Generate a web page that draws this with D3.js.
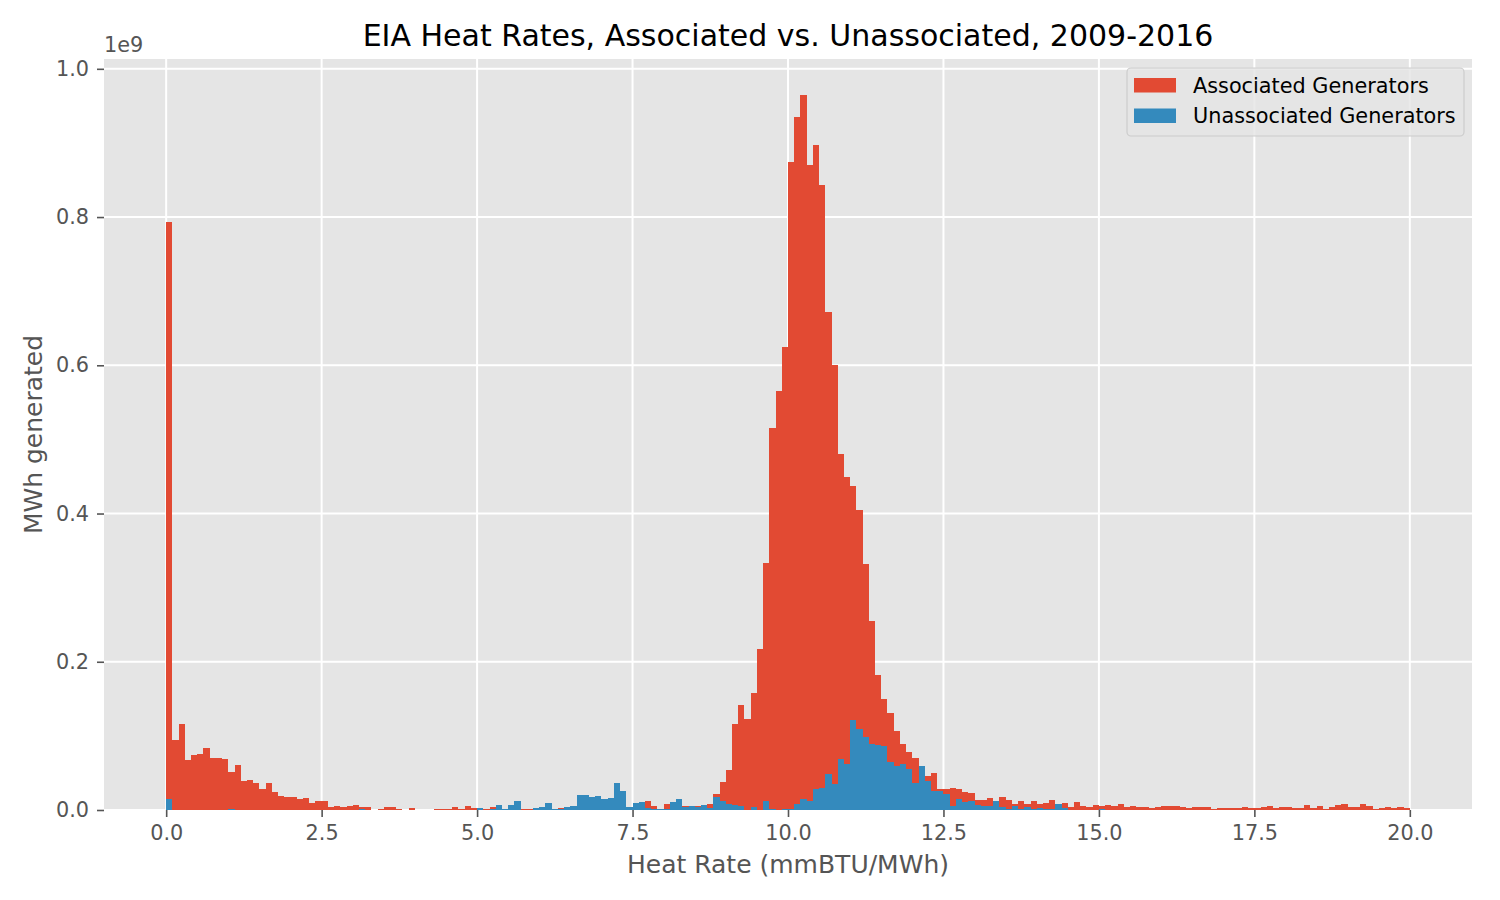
<!DOCTYPE html>
<html lang="en">
<head>
<meta charset="utf-8">
<script src="https://cdn.jsdelivr.net/npm/d3@7"></script>
<style>
  body { margin: 0; background: #fff; }
  svg text { font-family: "DejaVu Sans", sans-serif; }
</style>
</head>
<body>
<script>
// histogram bins: 200 bins of 0.1 mmBTU/MWh from 0 to 20
const binCount = 200
const binWidth = 0.1

// MWh generated per bin, in units of 1e9
const assocValues = [
  0.793, 0.094, 0.116, 0.067, 0.074, 0.075, 0.084, 0.070, 0.070, 0.069,
  0.051, 0.061, 0.039, 0.040, 0.036, 0.028, 0.036, 0.024, 0.019, 0.018,
  0.018, 0.015, 0.016, 0.0094, 0.012, 0.012, 0.004, 0.0054, 0.004, 0.0054,
  0.0067, 0.004, 0.004, 0, 0.0013, 0.004, 0.004, 0.0013, 0, 0.0027,
  0, 0, 0, 0.0013, 0.0013, 0.0013, 0.004, 0.0013, 0.0054, 0.0027,
  0.001, 0.0013, 0.004, 0.001, 0.001, 0.001, 0.002, 0.0013, 0.0013, 0.001,
  0.002, 0.003, 0.001, 0.0027, 0.002, 0.002, 0.003, 0.003, 0.003, 0.003,
  0.003, 0.003, 0.004, 0.004, 0.002, 0.004, 0.006, 0.012, 0.0054, 0.0013,
  0.008, 0.005, 0.006, 0.0054, 0.004, 0.0054, 0.005, 0.008, 0.0216, 0.038,
  0.054, 0.116, 0.1415, 0.1226, 0.158, 0.217, 0.333, 0.516, 0.5647, 0.6253,
  0.8747, 0.9353, 0.965, 0.8706, 0.8976, 0.8437, 0.6725, 0.601, 0.4798, 0.4488,
  0.4367, 0.4043, 0.3317, 0.2547, 0.182, 0.1496, 0.1307, 0.1065, 0.089, 0.078,
  0.070, 0.055, 0.0458, 0.050, 0.0283, 0.0283, 0.0297, 0.0283, 0.0243, 0.0229,
  0.0135, 0.0135, 0.016, 0.010, 0.0175, 0.0135, 0.008, 0.012, 0.008, 0.012,
  0.008, 0.0094, 0.0135, 0.006, 0.0094, 0.004, 0.0108, 0.0054, 0.004, 0.0067,
  0.0054, 0.0067, 0.0054, 0.008, 0.004, 0.0054, 0.004, 0.004, 0.0027, 0.004,
  0.0054, 0.0054, 0.0054, 0.004, 0.0027, 0.004, 0.004, 0.004, 0.0013, 0.0027,
  0.0027, 0.0027, 0.0027, 0.004, 0.0027, 0.0027, 0.004, 0.0054, 0.0027, 0.004,
  0.004, 0.0027, 0.0027, 0.0067, 0.0027, 0.0054, 0.0013, 0.004, 0.0067, 0.008,
  0.004, 0.004, 0.008, 0.0054, 0.0013, 0.0027, 0.004, 0.0027, 0.004, 0.0027
]
const unassocValues = [
  0.0148, 0, 0, 0, 0, 0, 0, 0, 0, 0,
  0.001, 0, 0, 0, 0, 0, 0, 0, 0, 0,
  0, 0, 0, 0, 0, 0, 0, 0, 0, 0,
  0, 0.001, 0, 0, 0, 0, 0, 0, 0, 0,
  0, 0, 0, 0, 0, 0, 0, 0, 0, 0,
  0.0027, 0, 0.001, 0.0067, 0.0013, 0.0067, 0.012, 0, 0, 0.0027,
  0.004, 0.0094, 0.0013, 0.001, 0.004, 0.0054, 0.020, 0.020, 0.0175, 0.019,
  0.0148, 0.016, 0.036, 0.0256, 0.004, 0.0094, 0.011, 0.0027, 0.002, 0.001,
  0.001, 0.011, 0.0148, 0.004, 0.0054, 0.004, 0.0067, 0.003, 0.0175, 0.012,
  0.008, 0.0067, 0.006, 0, 0.004, 0, 0.012, 0.0013, 0.0005, 0.0013,
  0.0013, 0.008, 0.0148, 0.012, 0.028, 0.0297, 0.0485, 0.035, 0.0687, 0.062,
  0.121, 0.109, 0.098, 0.089, 0.0876, 0.086, 0.0647, 0.0593, 0.062, 0.055,
  0.036, 0.0593, 0.039, 0.0256, 0.0256, 0.0216, 0.0054, 0.0148, 0.0108, 0.012,
  0.0067, 0.006, 0.006, 0.012, 0.004, 0.002, 0.0054, 0.001, 0.004, 0.001,
  0.0027, 0.001, 0.001, 0.008, 0.0027, 0, 0, 0, 0, 0,
  0.001, 0, 0, 0, 0, 0, 0, 0, 0, 0,
  0, 0, 0, 0, 0, 0, 0, 0, 0, 0,
  0, 0, 0, 0, 0, 0, 0, 0, 0, 0,
  0, 0, 0, 0, 0, 0, 0, 0, 0, 0,
  0, 0, 0, 0, 0, 0, 0, 0, 0, 0
]
const seriesNames = ['Associated Generators', 'Unassociated Generators']
const xTicks = [0, 2.5, 5, 7.5, 10, 12.5, 15, 17.5, 20]
const yTicks = [0, 0.2, 0.4, 0.6, 0.8, 1.0]

const w = 1500
const h = 900
const margin = {left: 104, right: 28, top: 59, bottom: 90}
const colors = ['#E24A33', '#348ABD']

const svg = d3.select('body').append('svg')
  .attr('width', w)
  .attr('height', h)

// matplotlib style: 5% margin on x, none at the bottom of y
const x = d3.scaleLinear()
  .domain([-1, 21])
  .range([margin.left, w - margin.right])
const yMax = d3.max(assocValues.concat(unassocValues)) * 1.05
const y = d3.scaleLinear()
  .domain([0, yMax])
  .range([h - margin.bottom, margin.top])

// panel background
svg.append('rect')
  .attr('x', margin.left)
  .attr('y', margin.top)
  .attr('width', w - margin.left - margin.right)
  .attr('height', h - margin.top - margin.bottom)
  .attr('fill', '#E5E5E5')

// grid
svg.append('g').selectAll('line.vg')
  .data(xTicks)
  .enter().append('line')
  .attr('x1', d => x(d)).attr('x2', d => x(d))
  .attr('y1', margin.top).attr('y2', h - margin.bottom)
  .attr('stroke', '#fff').attr('stroke-width', 2)
svg.append('g').selectAll('line.hg')
  .data(yTicks)
  .enter().append('line')
  .attr('x1', margin.left).attr('x2', w - margin.right)
  .attr('y1', d => y(d)).attr('y2', d => y(d))
  .attr('stroke', '#fff').attr('stroke-width', 2)

// bars: associated first, unassociated drawn over it
const series = [assocValues, unassocValues]
series.forEach(function(vals, s) {
  svg.append('g')
    .attr('fill', colors[s])
    .attr('shape-rendering', 'crispEdges')
    .selectAll('rect')
    .data(vals.map((v, i) => ({x0: i * binWidth, x1: (i + 1) * binWidth, v: v})).filter(d => d.v > 0))
    .enter().append('rect')
    .attr('x', d => x(d.x0))
    .attr('width', d => x(d.x1) - x(d.x0))
    .attr('y', d => y(d.v))
    .attr('height', d => y(0) - y(d.v))
})

// axes
const xAxis = d3.axisBottom(x)
  .tickValues(xTicks)
  .tickFormat(d3.format('.1f'))
  .tickSize(7)
  .tickSizeOuter(0)
  .tickPadding(8)
const yAxis = d3.axisLeft(y)
  .tickValues(yTicks)
  .tickFormat(d3.format('.1f'))
  .tickSize(7)
  .tickSizeOuter(0)
  .tickPadding(8)

const gx = svg.append('g')
  .attr('transform', 'translate(0,' + (h - margin.bottom) + ')')
  .call(xAxis)
const gy = svg.append('g')
  .attr('transform', 'translate(' + margin.left + ',0)')
  .call(yAxis)
;[gx, gy].forEach(function(g) {
  g.select('.domain').remove()
  g.selectAll('.tick line').attr('stroke', '#555').attr('stroke-width', 1.6)
  g.selectAll('.tick text')
    .attr('fill', '#555')
    .style('font-size', '20.8px')
    .style('font-family', '"DejaVu Sans", sans-serif')
})

// offset text
svg.append('text')
  .attr('x', margin.left)
  .attr('y', 52)
  .attr('fill', '#555')
  .style('font-size', '20.8px')
  .text('1e9')

// title and labels
const cx = (margin.left + w - margin.right) / 2
svg.append('text')
  .attr('x', cx)
  .attr('y', 46)
  .attr('text-anchor', 'middle')
  .attr('fill', '#000')
  .style('font-size', '30px')
  .text('EIA Heat Rates, Associated vs. Unassociated, 2009-2016')
svg.append('text')
  .attr('x', cx)
  .attr('y', 873)
  .attr('text-anchor', 'middle')
  .attr('fill', '#555')
  .style('font-size', '25px')
  .text('Heat Rate (mmBTU/MWh)')
svg.append('text')
  .attr('transform', 'translate(42,' + ((margin.top + h - margin.bottom) / 2) + ') rotate(-90)')
  .attr('text-anchor', 'middle')
  .attr('fill', '#555')
  .style('font-size', '25px')
  .text('MWh generated')

// legend
const legend = svg.append('g')
legend.append('rect')
  .attr('x', 1127).attr('y', 68)
  .attr('width', 337).attr('height', 68)
  .attr('rx', 4)
  .attr('fill', '#E5E5E5').attr('fill-opacity', 0.8)
  .attr('stroke', '#CCCCCC').attr('stroke-width', 1.2)
const items = legend.selectAll('g.item')
  .data(seriesNames)
  .enter().append('g')
  .attr('class', 'item')
  .attr('transform', (d, i) => 'translate(1134,' + (78 + i * 30.5) + ')')
items.append('rect')
  .attr('width', 42).attr('height', 14.5)
  .attr('fill', (d, i) => colors[i])
items.append('text')
  .attr('x', 59)
  .attr('y', 14.5)
  .attr('fill', '#000')
  .style('font-size', '20.8px')
  .text(d => d)
</script>
</body>
</html>
